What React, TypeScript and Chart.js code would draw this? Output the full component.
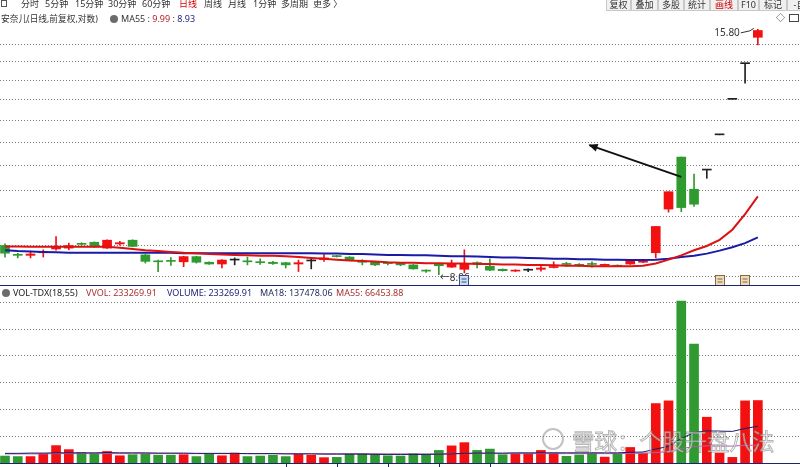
import React, { useEffect, useRef } from "react";
import { Chart, registerables } from "chart.js";

Chart.register(...registerables);

// ---------- data ----------
const openP = [8.73,8.52,8.50,8.56,8.65,8.67,8.77,8.81,8.67,8.77,8.86,8.51,8.36,8.38,8.35,8.47,8.34,8.30,8.39,8.36,8.35,8.34,8.33,8.30,8.37,8.40,8.49,8.46,8.37,8.35,8.33,8.32,8.28,8.15,8.30,8.23,8.18,8.33,8.25,8.18,8.14,8.16,8.18,8.22,8.31,8.28,8.30,8.27,8.27,8.30,8.34,8.56,9.65,11.13,10.19,10.74,11.83,13.04,14.38,15.46];
const highP = [8.77,8.55,8.60,8.63,8.95,8.79,8.80,8.82,8.87,8.83,8.87,8.52,8.39,8.45,8.48,8.48,8.35,8.40,8.44,8.46,8.42,8.36,8.34,8.39,8.41,8.52,8.50,8.47,8.40,8.36,8.34,8.33,8.29,8.17,8.31,8.39,8.63,8.35,8.42,8.19,8.17,8.19,8.25,8.35,8.34,8.31,8.35,8.30,8.28,8.38,8.38,9.20,10.12,11.13,10.62,10.74,11.83,13.04,14.38,15.80];
const lowP = [8.46,8.44,8.44,8.46,8.62,8.63,8.74,8.69,8.66,8.74,8.70,8.32,8.13,8.27,8.24,8.32,8.29,8.21,8.28,8.28,8.29,8.29,8.21,8.13,8.19,8.36,8.46,8.38,8.28,8.26,8.28,8.26,8.18,8.11,8.06,8.22,8.10,8.21,8.15,8.14,8.13,8.13,8.14,8.21,8.25,8.24,8.23,8.25,8.24,8.29,8.33,8.44,9.57,9.58,9.72,10.50,11.83,13.04,13.63,15.14];
const closeP = [8.55,8.50,8.53,8.59,8.69,8.73,8.76,8.70,8.86,8.80,8.71,8.36,8.35,8.36,8.47,8.34,8.30,8.39,8.39,8.35,8.33,8.31,8.28,8.33,8.37,8.44,8.47,8.39,8.34,8.28,8.31,8.28,8.19,8.14,8.26,8.30,8.30,8.31,8.16,8.15,8.16,8.16,8.21,8.24,8.29,8.27,8.29,8.28,8.25,8.37,8.36,9.20,10.12,9.69,9.78,10.74,11.83,13.04,14.38,15.75];
const maRed = [8.71,8.71,8.70,8.70,8.70,8.70,8.70,8.70,8.70,8.68,8.65,8.62,8.60,8.58,8.56,8.55,8.53,8.52,8.51,8.50,8.49,8.49,8.48,8.46,8.44,8.42,8.40,8.38,8.37,8.36,8.34,8.33,8.33,8.32,8.32,8.31,8.31,8.30,8.30,8.29,8.29,8.28,8.28,8.27,8.26,8.26,8.25,8.25,8.25,8.25,8.26,8.31,8.40,8.50,8.62,8.72,8.87,9.12,9.52,9.99];
const maBlue = [8.62,8.60,8.59,8.58,8.57,8.56,8.56,8.56,8.56,8.56,8.56,8.56,8.56,8.56,8.55,8.55,8.55,8.55,8.55,8.55,8.55,8.55,8.55,8.55,8.55,8.54,8.54,8.53,8.53,8.52,8.51,8.51,8.50,8.50,8.49,8.48,8.48,8.47,8.46,8.45,8.45,8.44,8.43,8.42,8.42,8.41,8.41,8.40,8.40,8.39,8.39,8.40,8.42,8.46,8.49,8.54,8.61,8.69,8.79,8.93];
const volume = [26000,24000,24000,34000,65000,50000,39000,36000,43000,27000,31000,34000,29000,29000,31000,24000,34000,27000,37000,24000,26000,29000,24000,32000,29000,20000,21000,35000,35000,29000,27000,26000,35000,30000,47000,64000,76000,47000,52000,31000,35000,35000,47000,37000,25000,30000,37000,22000,35000,58000,37000,222000,232000,605000,444000,171000,37000,21000,232000,233269.91];
const volMa18 = [36000,36000,37000,37000,38000,38000,38000,38000,39000,38000,38000,38000,37000,37000,37000,36000,36000,36000,36000,35000,35000,35000,34000,34000,34000,33000,33000,33000,33000,32000,32000,32000,32000,32000,33000,34000,36000,37000,37000,37000,38000,38000,38000,38000,38000,38000,38000,38000,38000,40000,41000,52000,62000,92000,113000,120000,119000,118000,129000,137478.06];
const volMa55 = [34000,34000,34000,34000,35000,35000,35000,35000,35000,35000,35000,35000,35000,35000,35000,35000,35000,35000,35000,35000,35000,35000,35000,35000,35000,35000,35000,35000,35000,35000,34000,34000,34000,34000,34000,35000,35000,35000,35000,35000,35000,35000,35000,35000,35000,35000,35000,35000,35000,36000,36000,39000,43000,54000,61000,64000,64000,63000,66000,66453.88];

const priceGrid = [8.02, 8.73, 9.45, 10.16, 10.88, 11.59, 12.30, 13.02, 13.73, 14.45, 15.16];
const volumeGrid = [100000, 200000, 300000, 400000, 500000, 600000];
const priceRange = [7.814, 15.946];
const volumeRange = [0, 661000];
const dayRange = [-0.392, 62.304];
const markerDays = [36, 56, 58];
const markerKinds = ["info", "event", "event"];
const axisTickDays = [22, 26, 30, 34, 38];
const arrowFrom = [53, 10.54];
const arrowTo = [45.8, 11.5];

const periodTabs = ["分时", "5分钟", "15分钟", "30分钟", "60分钟", "日线", "周线", "月线", "1分钟", "多周期", "更多 〉"];
const periodTabX = [21, 45, 75, 108, 142, 179, 204, 228, 253, 281, 313];
const toolButtons = ["复权", "叠加", "多股", "统计", "画线", "F10", "标记", "-自"];
const toolButtonEdges = [606, 631, 658, 684, 710, 738, 759, 787, 812];

// ---------- styles ----------
const UP = "#f21010";
const DOWN = "#2f9a2f";
const FLAT = "#222222";
const GRID = "#7a7a7a";
const NAVY = "#1c2470";
const FONT = '"Noto Sans", "Noto Sans CJK SC", sans-serif';

export default function App() {
  const priceRef = useRef<HTMLCanvasElement>(null);
  const volRef = useRef<HTMLCanvasElement>(null);

  useEffect(() => {
    document.body.style.margin = "0";
    const days = closeP.map((_, i) => i);
    const bodyColor = days.map((i) => (closeP[i] > openP[i] ? UP : closeP[i] < openP[i] ? DOWN : FLAT));
    const volColor = days.map((i) => (closeP[i] >= openP[i] ? UP : DOWN));

    const gridAxis = (range: number[], values: number[], type: string) => ({
      type,
      min: range[0],
      max: range[1],
      bounds: "data",
      position: "left",
      ticks: { display: false },
      grid: { color: GRID, lineWidth: 1, drawTicks: false },
      border: { display: false, dash: [1, 2] },
      afterBuildTicks: (scale: any) => {
        scale.ticks = values.map((v) => ({ value: v }));
      },
      afterFit: (scale: any) => {
        scale.width = 0;
      },
    });
    const xAxis = { type: "linear", min: dayRange[0], max: dayRange[1], display: false, offset: false };

    const priceNotes = {
      id: "priceNotes",
      afterDatasetsDraw(chart: any) {
        const { ctx, chartArea } = chart;
        const x = chart.scales.x;
        const y = chart.scales.y;
        ctx.save();
        // arrow annotation
        const ax1 = x.getPixelForValue(arrowFrom[0]);
        const ay1 = y.getPixelForValue(arrowFrom[1]);
        const ax2 = x.getPixelForValue(arrowTo[0]);
        const ay2 = y.getPixelForValue(arrowTo[1]);
        ctx.strokeStyle = "#111";
        ctx.fillStyle = "#111";
        ctx.lineWidth = 2;
        ctx.beginPath();
        ctx.moveTo(ax1, ay1);
        ctx.lineTo(ax2, ay2);
        ctx.stroke();
        const ang = Math.atan2(ay2 - ay1, ax2 - ax1);
        ctx.beginPath();
        ctx.moveTo(ax2 + 1 * Math.cos(ang), ay2 + 1 * Math.sin(ang));
        ctx.lineTo(ax2 - 9 * Math.cos(ang - 0.45), ay2 - 9 * Math.sin(ang - 0.45));
        ctx.lineTo(ax2 - 9 * Math.cos(ang + 0.45), ay2 - 9 * Math.sin(ang + 0.45));
        ctx.closePath();
        ctx.fill();

        // highest price label
        const hi = Math.max(...highP);
        const hiIdx = highP.indexOf(hi);
        const hx = x.getPixelForValue(hiIdx);
        const hy = y.getPixelForValue(hi);
        ctx.strokeStyle = "#333";
        ctx.lineWidth = 1;
        ctx.beginPath();
        ctx.moveTo(hx - 17, hy + 3.5);
        ctx.lineTo(hx - 8, hy + 1.5);
        ctx.lineTo(hx - 4, hy - 1);
        ctx.stroke();
        ctx.font = "10px " + FONT;
        ctx.fillStyle = "#333";
        ctx.textAlign = "right";
        ctx.textBaseline = "middle";
        ctx.fillText(hi.toFixed(2), hx - 18, hy + 4);

        // lowest price label
        const lo = Math.min(...lowP);
        const loIdx = lowP.indexOf(lo);
        const lx = x.getPixelForValue(loIdx);
        const ly = y.getPixelForValue(lo);
        ctx.textAlign = "left";
        ctx.fillText("←" + lo.toFixed(2), lx + 1, ly + 3);

        // event markers at the pane bottom
        markerDays.forEach((d, k) => {
          const mx = Math.round(x.getPixelForValue(d)) - 4.5;
          const my = chartArea.bottom - 10.5;
          ctx.fillStyle = markerKinds[k] === "info" ? "#cfdcf2" : "#eadcbc";
          ctx.strokeStyle = markerKinds[k] === "info" ? "#34508a" : "#8a6a3a";
          ctx.fillRect(mx, my, 9, 10);
          ctx.strokeRect(mx, my, 9, 10);
          ctx.fillStyle = markerKinds[k] === "info" ? "#34508a" : "#8a6a3a";
          ctx.fillRect(mx + 2, my + 3, 5, 1);
          ctx.fillRect(mx + 2, my + 6, 5, 1);
        });
        ctx.restore();
      },
    };

    const volNotes = {
      id: "volNotes",
      afterDatasetsDraw(chart: any) {
        const { ctx, chartArea } = chart;
        const x = chart.scales.x;
        ctx.save();
        ctx.fillStyle = NAVY;
        ctx.fillRect(0, chartArea.bottom, chart.width, 1);
        axisTickDays.forEach((d) => {
          ctx.fillRect(Math.round(x.getPixelForValue(d)), chartArea.bottom, 1, 5);
        });
        ctx.restore();
      },
    };

    const priceChart = new Chart(priceRef.current as HTMLCanvasElement, {
      type: "bar",
      data: {
        datasets: [
          {
            type: "line",
            data: days.map((i) => ({ x: i, y: maRed[i] })),
            borderColor: "#dd1111",
            borderWidth: 2,
            pointRadius: 0,
            order: 0,
          },
          {
            type: "line",
            data: days.map((i) => ({ x: i, y: maBlue[i] })),
            borderColor: "#1a1aa6",
            borderWidth: 2,
            pointRadius: 0,
            order: 0,
          },
          {
            type: "bar",
            data: days.map((i) => ({ x: i, y: [openP[i], closeP[i]] })),
            backgroundColor: bodyColor,
            barThickness: 9,
            minBarLength: 1,
            grouped: false,
            order: 1,
          },
          {
            type: "bar",
            data: days.map((i) => ({ x: i, y: [lowP[i], highP[i]] })),
            backgroundColor: bodyColor,
            barThickness: 1,
            grouped: false,
            order: 2,
          },
        ],
      } as any,
      options: {
        animation: false,
        responsive: false,
        devicePixelRatio: 1,
        events: [],
        layout: { padding: { top: 26, left: 0, right: 0, bottom: 0 } },
        plugins: { legend: { display: false }, tooltip: { enabled: false } },
        scales: {
          x: xAxis,
          y: gridAxis(priceRange, priceGrid, "logarithmic"),
        },
      } as any,
      plugins: [priceNotes],
    });

    const volChart = new Chart(volRef.current as HTMLCanvasElement, {
      type: "bar",
      data: {
        datasets: [
          {
            type: "line",
            data: days.map((i) => ({ x: i, y: volMa18[i] })),
            borderColor: "#1a1a66",
            borderWidth: 1,
            pointRadius: 0,
            order: 0,
          },
          {
            type: "line",
            data: days.map((i) => ({ x: i, y: volMa55[i] })),
            borderColor: "#b060b0",
            borderWidth: 1,
            pointRadius: 0,
            order: 0,
          },
          {
            type: "bar",
            data: days.map((i) => ({ x: i, y: volume[i] })),
            backgroundColor: volColor,
            barThickness: 9,
            grouped: false,
            order: 1,
          },
        ],
      } as any,
      options: {
        animation: false,
        responsive: false,
        devicePixelRatio: 1,
        events: [],
        layout: { padding: { top: 0, left: 0, right: 0, bottom: 4 } },
        plugins: { legend: { display: false }, tooltip: { enabled: false } },
        scales: {
          x: xAxis,
          y: gridAxis(volumeRange, volumeGrid, "linear"),
        },
      } as any,
      plugins: [volNotes],
    });

    return () => {
      priceChart.destroy();
      volChart.destroy();
    };
  }, []);

  const abs = (left: number, top: number, extra: any = {}) => ({
    position: "absolute" as const,
    left,
    top,
    whiteSpace: "nowrap" as const,
    ...extra,
  });

  return (
    <div
      style={{
        position: "fixed",
        left: 0,
        top: 0,
        width: 800,
        height: 467,
        overflow: "hidden",
        background: "#fff",
        fontFamily: FONT,
        color: "#333",
      }}
    >
      <canvas ref={priceRef} width={800} height={286} style={abs(0, 0, { width: 800, height: 286 })} />
      <canvas ref={volRef} width={800} height={181} style={abs(0, 286, { width: 800, height: 181 })} />

      {/* toolbar */}
      <div style={abs(1, 0, { width: 6, height: 7, border: "1px solid #555", boxSizing: "border-box" })} />
      {periodTabs.map((t, i) => (
        <div
          key={t}
          style={abs(periodTabX[i], -2, {
            fontSize: 9,
            lineHeight: "12px",
            color: t === "日线" ? "#d40000" : "#333",
          })}
        >
          {t}
        </div>
      ))}
      {toolButtons.map((t, i) => (
        <div
          key={t}
          style={abs(toolButtonEdges[i], -1, {
            width: toolButtonEdges[i + 1] - toolButtonEdges[i],
            height: 12,
            boxSizing: "border-box",
            background: "#f0f0f0",
            border: "1px solid #c9c9c9",
            fontSize: 9,
            lineHeight: "10px",
            textAlign: "center",
            color: t === "画线" ? "#d40000" : "#333",
          })}
        >
          {t}
        </div>
      ))}

      {/* price legend */}
      <div style={abs(1, 13, { fontSize: 8.7, lineHeight: "12px", color: "#333" })}>安奈儿(日线,前复权,对数)</div>
      <div style={abs(110, 15, { width: 8, height: 8, borderRadius: 4, background: "#6b6b6b" })} />
      <div style={abs(121, 13, { fontSize: 9, lineHeight: "12px", color: "#333" })}>
        MA55 : <span style={{ color: "#b52323" }}>9.99</span> : <span style={{ color: "#1f1f7a" }}>8.93</span>
      </div>
      <div style={abs(776, 12, { fontSize: 9, lineHeight: "12px", color: "#444" })}>◇</div>
      <div style={abs(789, 14, { width: 10, height: 8, border: "1px solid #444", boxSizing: "border-box" })} />

      {/* pane separator */}
      <div style={abs(0, 285, { width: 800, height: 1, background: NAVY })} />

      {/* volume legend */}
      <div style={abs(2, 289, { width: 8, height: 8, borderRadius: 4, background: "#6b6b6b" })} />
      <div style={abs(13, 287, { fontSize: 9, lineHeight: "12px", color: "#222" })}>VOL-TDX(18,55)</div>
      <div style={abs(86, 287, { fontSize: 9, lineHeight: "12px", color: "#a83232" })}>VVOL: 233269.91</div>
      <div style={abs(167, 287, { fontSize: 9, lineHeight: "12px", color: "#22227a" })}>VOLUME: 233269.91</div>
      <div style={abs(260, 287, { fontSize: 9, lineHeight: "12px", color: "#22305a" })}>MA18: 137478.06</div>
      <div style={abs(336, 287, { fontSize: 9, lineHeight: "12px", color: "#a83232" })}>MA55: 66453.88</div>

      {/* watermark */}
      <div
        style={abs(542, 428, {
          width: 22,
          height: 22,
          borderRadius: 12,
          border: "2px solid rgba(120,120,120,0.45)",
          boxSizing: "border-box",
        })}
      />
      <div
        style={abs(572, 426, {
          fontSize: 22.5,
          lineHeight: "28px",
          color: "rgba(255,255,255,0.55)",
          WebkitTextStroke: "1px rgba(110,110,110,0.5)",
          fontFamily: '"Noto Sans CJK SC", sans-serif',
        })}
      >
        雪球：个股开盘八法
      </div>
    </div>
  );
}
